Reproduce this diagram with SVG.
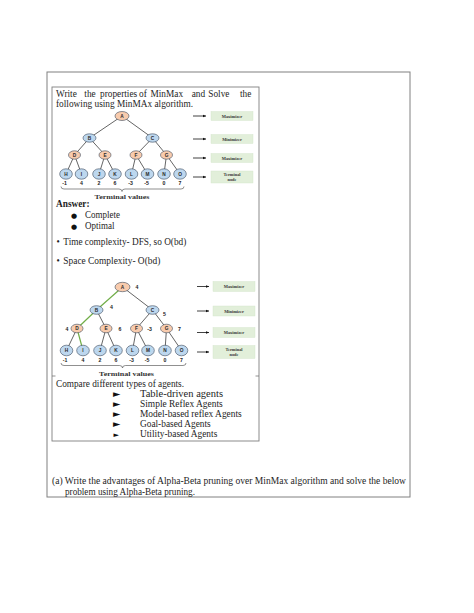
<svg xmlns="http://www.w3.org/2000/svg" width="474" height="613" viewBox="0 0 474 613">
<style>
.t{font-family:"Liberation Serif","Times New Roman",serif;font-size:9.3px;fill:#1e1e1e}
.b{font-weight:bold}
.nl{font-family:"Liberation Sans",Arial,sans-serif;font-size:4.8px;font-weight:bold;fill:#2a2a2a;text-anchor:middle}
.val{font-family:"Liberation Sans",Arial,sans-serif;font-size:5.2px;font-weight:bold;fill:#222;text-anchor:middle}
.tv{font-family:"Liberation Serif",serif;font-size:6px;font-weight:bold;fill:#333;text-anchor:middle}
.lbl{font-family:"Liberation Serif",serif;font-size:4.4px;font-weight:bold;fill:#3a3a3a;text-anchor:middle}
.max{fill:#f8cbad;stroke:#3d4a5c;stroke-width:0.6}
.min{fill:#bdd7ee;stroke:#3d4a5c;stroke-width:0.6}
.edge{stroke:#222;stroke-width:0.7;fill:none}
.green{stroke:#70ad47;stroke-width:1.2;fill:none}
.box{fill:#e2efda;stroke:#d2e3c9;stroke-width:0.4}
.arr{stroke:#111;stroke-width:0.8;marker-end:url(#ah)}
.brace{stroke:#444;stroke-width:0.6;fill:none}
.frame{fill:none;stroke:#808080;stroke-width:1}
.bul{font-family:"DejaVu Sans",sans-serif;font-size:7px;fill:#111}
.tri{font-family:"DejaVu Sans",sans-serif;font-size:9.5px;fill:#111}
</style>
<defs>
<marker id="ah" markerWidth="4" markerHeight="4" refX="3.5" refY="2" orient="auto" markerUnits="userSpaceOnUse">
<path d="M0,0.6 L3.6,2 L0,3.4 Z" fill="#111"/>
</marker>
</defs>
<rect width="474" height="613" fill="#fff"/>
<rect id="outer-frame" class="frame" x="47" y="72" width="363" height="425"/>
<rect id="inner-frame" x="52" y="87" width="207" height="354" fill="none" stroke="#7f7f7f" stroke-width="0.9"/>
<g id="crop-ticks" stroke="#777" stroke-width="0.8">
<line x1="52" y1="376" x2="55.5" y2="376"/>
<line x1="255.5" y1="376" x2="259" y2="376"/>
</g>
<g id="question1">
<text class="t" y="96.5"><tspan x="56">Write</tspan><tspan x="84.3">the</tspan><tspan x="100">properties</tspan><tspan x="139">of</tspan><tspan x="150.5">MinMax</tspan><tspan x="191.7">and</tspan><tspan x="208.3">Solve</tspan><tspan x="240">the</tspan></text>
<text class="t" x="56" y="106.5" textLength="137" lengthAdjust="spacingAndGlyphs">following using MinMAx algorithm.</text>
</g>
<g id="connectors">
<g id="tree1-edges">
<line class="edge" x1="122" y1="116" x2="89.5" y2="138"/>
<line class="edge" x1="122" y1="116" x2="152.5" y2="138"/>
<line class="edge" x1="89.5" y1="138" x2="74.5" y2="155"/>
<line class="edge" x1="89.5" y1="138" x2="105" y2="155"/>
<line class="edge" x1="152.5" y1="138" x2="136" y2="155"/>
<line class="edge" x1="152.5" y1="138" x2="166.5" y2="155"/>
<line class="edge" x1="74.5" y1="155" x2="66" y2="174"/>
<line class="edge" x1="74.5" y1="155" x2="81.5" y2="174"/>
<line class="edge" x1="105" y1="155" x2="99" y2="174"/>
<line class="edge" x1="105" y1="155" x2="115" y2="174"/>
<line class="edge" x1="136" y1="155" x2="131.5" y2="174"/>
<line class="edge" x1="136" y1="155" x2="147.5" y2="174"/>
<line class="edge" x1="166.5" y1="155" x2="164" y2="174"/>
<line class="edge" x1="166.5" y1="155" x2="180" y2="174"/>
</g>
<g id="tree2-edges">
<line class="green" x1="122.5" y1="287" x2="96.5" y2="310"/>
<line class="edge" x1="122.5" y1="287" x2="152.5" y2="310"/>
<line class="green" x1="96.5" y1="310" x2="77" y2="328.5"/>
<line class="edge" x1="96.5" y1="310" x2="106" y2="328.5"/>
<line class="edge" x1="152.5" y1="310" x2="136.5" y2="328.5"/>
<line class="edge" x1="152.5" y1="310" x2="166.5" y2="328.5"/>
<line class="edge" x1="77" y1="328.5" x2="66.5" y2="350.5"/>
<line class="green" x1="77" y1="328.5" x2="83" y2="350.5"/>
<line class="edge" x1="106" y1="328.5" x2="100" y2="350.5"/>
<line class="edge" x1="106" y1="328.5" x2="116" y2="350.5"/>
<line class="edge" x1="136.5" y1="328.5" x2="132.5" y2="350.5"/>
<line class="edge" x1="136.5" y1="328.5" x2="148" y2="350.5"/>
<line class="edge" x1="166.5" y1="328.5" x2="165" y2="350.5"/>
<line class="edge" x1="166.5" y1="328.5" x2="181.5" y2="350.5"/>
</g>
<g id="label-arrows">
<line class="arr" x1="193" y1="116" x2="206" y2="116"/>
<line class="arr" x1="193" y1="139" x2="206" y2="139"/>
<line class="arr" x1="193" y1="158" x2="206" y2="158"/>
<line class="arr" x1="193" y1="177" x2="206" y2="177"/>
<line class="arr" x1="197" y1="286.5" x2="209" y2="286.5"/>
<line class="arr" x1="197" y1="311" x2="209" y2="311"/>
<line class="arr" x1="197" y1="332.5" x2="209" y2="332.5"/>
<line class="arr" x1="197" y1="352" x2="209" y2="352"/>
</g>
</g>
<g id="tree1">
<g id="t1-A"><ellipse class="max" cx="122" cy="116" rx="7" ry="4.5"/><text class="nl" x="122" y="117.7">A</text></g>
<g id="t1-B"><ellipse class="min" cx="89.5" cy="138" rx="6.5" ry="4.2"/><text class="nl" x="89.5" y="139.7">B</text></g>
<g id="t1-C"><ellipse class="min" cx="152.5" cy="138" rx="6.5" ry="4.2"/><text class="nl" x="152.5" y="139.7">C</text></g>
<g id="t1-D"><ellipse class="max" cx="74.5" cy="155" rx="6" ry="4.2"/><text class="nl" x="74.5" y="156.7">D</text></g>
<g id="t1-E"><ellipse class="max" cx="105" cy="155" rx="6" ry="4.2"/><text class="nl" x="105" y="156.7">E</text></g>
<g id="t1-F"><ellipse class="max" cx="136" cy="155" rx="6" ry="4.2"/><text class="nl" x="136" y="156.7">F</text></g>
<g id="t1-G"><ellipse class="max" cx="166.5" cy="155" rx="6" ry="4.2"/><text class="nl" x="166.5" y="156.7">G</text></g>
<g id="t1-H"><ellipse class="min" cx="66" cy="174" rx="6.3" ry="5.2"/><text class="nl" x="66" y="175.7">H</text></g>
<g id="t1-I"><ellipse class="min" cx="81.5" cy="174" rx="6.3" ry="5.2"/><text class="nl" x="81.5" y="175.7">I</text></g>
<g id="t1-J"><ellipse class="min" cx="99" cy="174" rx="6.3" ry="5.2"/><text class="nl" x="99" y="175.7">J</text></g>
<g id="t1-K"><ellipse class="min" cx="115" cy="174" rx="6.3" ry="5.2"/><text class="nl" x="115" y="175.7">K</text></g>
<g id="t1-L"><ellipse class="min" cx="131.5" cy="174" rx="6.3" ry="5.2"/><text class="nl" x="131.5" y="175.7">L</text></g>
<g id="t1-M"><ellipse class="min" cx="147.5" cy="174" rx="6.3" ry="5.2"/><text class="nl" x="147.5" y="175.7">M</text></g>
<g id="t1-N"><ellipse class="min" cx="164" cy="174" rx="6.3" ry="5.2"/><text class="nl" x="164" y="175.7">N</text></g>
<g id="t1-O"><ellipse class="min" cx="180" cy="174" rx="6.3" ry="5.2"/><text class="nl" x="180" y="175.7">O</text></g>
<g id="t1-values">
<text class="val" x="64.5" y="185">-1</text><text class="val" x="81.5" y="185">4</text>
<text class="val" x="99" y="185">2</text><text class="val" x="115" y="185">6</text>
<text class="val" x="130.5" y="185">-3</text><text class="val" x="146.5" y="185">-5</text>
<text class="val" x="164" y="185">0</text><text class="val" x="180" y="185">7</text>
</g>
<path class="brace" d="M61,186.5 Q61,189 64,189 L119,189 Q122,189 122,191.5 Q122,189 125,189 L181,189 Q184,189 184,186.5"/>
<text class="tv" x="122" y="198.5" textLength="55" lengthAdjust="spacingAndGlyphs">Terminal values</text>
<g id="t1-labels">
<g id="t1-lbl-max1"><rect class="box" x="211" y="111.5" width="42" height="9"/><text class="lbl" x="232" y="117.5">Maximizer</text></g>
<g id="t1-lbl-min"><rect class="box" x="211" y="134.5" width="42" height="9"/><text class="lbl" x="232" y="140.5">Minimizer</text></g>
<g id="t1-lbl-max2"><rect class="box" x="211" y="153.5" width="42" height="9"/><text class="lbl" x="232" y="159.5">Maximizer</text></g>
<g id="t1-lbl-term"><rect class="box" x="211" y="171" width="42" height="12"/><text class="lbl" x="232" y="176">Terminal</text><text class="lbl" x="232" y="181">node</text></g>
</g>
</g>
<g id="answer">
<text class="t b" x="56" y="207">Answer:</text>
<text class="bul" x="71" y="218">●</text><text class="t" x="85" y="218" textLength="35" lengthAdjust="spacingAndGlyphs">Complete</text>
<text class="bul" x="71" y="228.5">●</text><text class="t" x="85" y="228.5" textLength="29.5" lengthAdjust="spacingAndGlyphs">Optimal</text>
<text class="t" x="56.5" y="245">•</text><text class="t" x="63.3" y="245" textLength="123" lengthAdjust="spacingAndGlyphs">Time complexity- DFS, so O(bd)</text>
<text class="t" x="56.5" y="263.5">•</text><text class="t" x="63.3" y="263.5" textLength="97" lengthAdjust="spacingAndGlyphs">Space Complexity- O(bd)</text>
</g>
<g id="tree2">
<g id="t2-A"><ellipse class="max" cx="122.5" cy="287" rx="7.5" ry="4.7"/><text class="nl" x="122.5" y="288.7">A</text></g>
<g id="t2-B"><ellipse class="min" cx="96.5" cy="310" rx="6.5" ry="4.3"/><text class="nl" x="96.5" y="311.7">B</text></g>
<g id="t2-C"><ellipse class="min" cx="152.5" cy="310" rx="6.5" ry="4.3"/><text class="nl" x="152.5" y="311.7">C</text></g>
<g id="t2-D"><ellipse class="max" cx="77" cy="328.5" rx="6" ry="4.3"/><text class="nl" x="77" y="330.2">D</text></g>
<g id="t2-E"><ellipse class="max" cx="106" cy="328.5" rx="6" ry="4.3"/><text class="nl" x="106" y="330.2">E</text></g>
<g id="t2-F"><ellipse class="max" cx="136.5" cy="328.5" rx="6" ry="4.3"/><text class="nl" x="136.5" y="330.2">F</text></g>
<g id="t2-G"><ellipse class="max" cx="166.5" cy="328.5" rx="6" ry="4.3"/><text class="nl" x="166.5" y="330.2">G</text></g>
<g id="t2-H"><ellipse class="min" cx="66.5" cy="350.5" rx="6.3" ry="5.3"/><text class="nl" x="66.5" y="352.2">H</text></g>
<g id="t2-I"><ellipse class="min" cx="83" cy="350.5" rx="6.3" ry="5.3"/><text class="nl" x="83" y="352.2">I</text></g>
<g id="t2-J"><ellipse class="min" cx="100" cy="350.5" rx="6.3" ry="5.3"/><text class="nl" x="100" y="352.2">J</text></g>
<g id="t2-K"><ellipse class="min" cx="116" cy="350.5" rx="6.3" ry="5.3"/><text class="nl" x="116" y="352.2">K</text></g>
<g id="t2-L"><ellipse class="min" cx="132.5" cy="350.5" rx="6.3" ry="5.3"/><text class="nl" x="132.5" y="352.2">L</text></g>
<g id="t2-M"><ellipse class="min" cx="148" cy="350.5" rx="6.3" ry="5.3"/><text class="nl" x="148" y="352.2">M</text></g>
<g id="t2-N"><ellipse class="min" cx="165" cy="350.5" rx="6.3" ry="5.3"/><text class="nl" x="165" y="352.2">N</text></g>
<g id="t2-O"><ellipse class="min" cx="181.5" cy="350.5" rx="6.3" ry="5.3"/><text class="nl" x="181.5" y="352.2">O</text></g>
<g id="t2-node-values">
<text class="val" x="137" y="289">4</text>
<text class="val" x="111.5" y="309">4</text>
<text class="val" x="164.5" y="316">5</text>
<text class="val" x="67" y="330.5">4</text>
<text class="val" x="120" y="330.5">6</text>
<text class="val" x="149.5" y="330.5">-3</text>
<text class="val" x="179.5" y="330.5">7</text>
</g>
<g id="t2-values">
<text class="val" x="65" y="361.5">-1</text><text class="val" x="83" y="361.5">4</text>
<text class="val" x="100" y="361.5">2</text><text class="val" x="116" y="361.5">6</text>
<text class="val" x="131.5" y="361.5">-3</text><text class="val" x="147" y="361.5">-5</text>
<text class="val" x="165" y="361.5">0</text><text class="val" x="181.5" y="361.5">7</text>
</g>
<path class="brace" d="M61,363 Q61,365.5 64,365.5 L119.5,365.5 Q122.5,365.5 122.5,368 Q122.5,365.5 125.5,365.5 L183,365.5 Q186,365.5 186,363"/>
<text class="tv" x="126.5" y="376" textLength="55" lengthAdjust="spacingAndGlyphs">Terminal values</text>
<g id="t2-labels">
<g id="t2-lbl-max1"><rect class="box" x="213" y="281.5" width="42" height="10"/><text class="lbl" x="234" y="288">Maximizer</text></g>
<g id="t2-lbl-min"><rect class="box" x="213" y="306" width="42" height="10"/><text class="lbl" x="234" y="312.5">Minimizer</text></g>
<g id="t2-lbl-max2"><rect class="box" x="213" y="327.5" width="42" height="10"/><text class="lbl" x="234" y="334">Maximizer</text></g>
<g id="t2-lbl-term"><rect class="box" x="213" y="345.5" width="42" height="13"/><text class="lbl" x="234" y="351">Terminal</text><text class="lbl" x="234" y="356.3">node</text></g>
</g>
</g>
<g id="agents">
<text class="t" x="56" y="387" textLength="128" lengthAdjust="spacingAndGlyphs">Compare different types of agents.</text>
<text class="tri" x="113" y="397">►</text><text class="t" x="140" y="396.5" textLength="83" lengthAdjust="spacingAndGlyphs">Table-driven agents</text>
<text class="tri" x="113" y="407">►</text><text class="t" x="140" y="406.5" textLength="82.7" lengthAdjust="spacingAndGlyphs">Simple Reflex Agents</text>
<text class="tri" x="113" y="417">►</text><text class="t" x="140" y="416.5" textLength="101.7" lengthAdjust="spacingAndGlyphs">Model-based reflex Agents</text>
<text class="tri" x="113" y="427">►</text><text class="t" x="140" y="426.5" textLength="70.7" lengthAdjust="spacingAndGlyphs">Goal-based Agents</text>
<text class="tri" x="113.5" y="437" style="font-size:7px">►</text><text class="t" x="140" y="437" textLength="77.3" lengthAdjust="spacingAndGlyphs">Utility-based Agents</text>
</g>
<g id="question-a">
<text class="t" x="52" y="484" textLength="354" lengthAdjust="spacingAndGlyphs">(a) Write the advantages of Alpha-Beta pruning over MinMax algorithm and solve the below</text>
<text class="t" x="65" y="494.5" textLength="130" lengthAdjust="spacingAndGlyphs">problem using Alpha-Beta pruning.</text>
</g>
</svg>
